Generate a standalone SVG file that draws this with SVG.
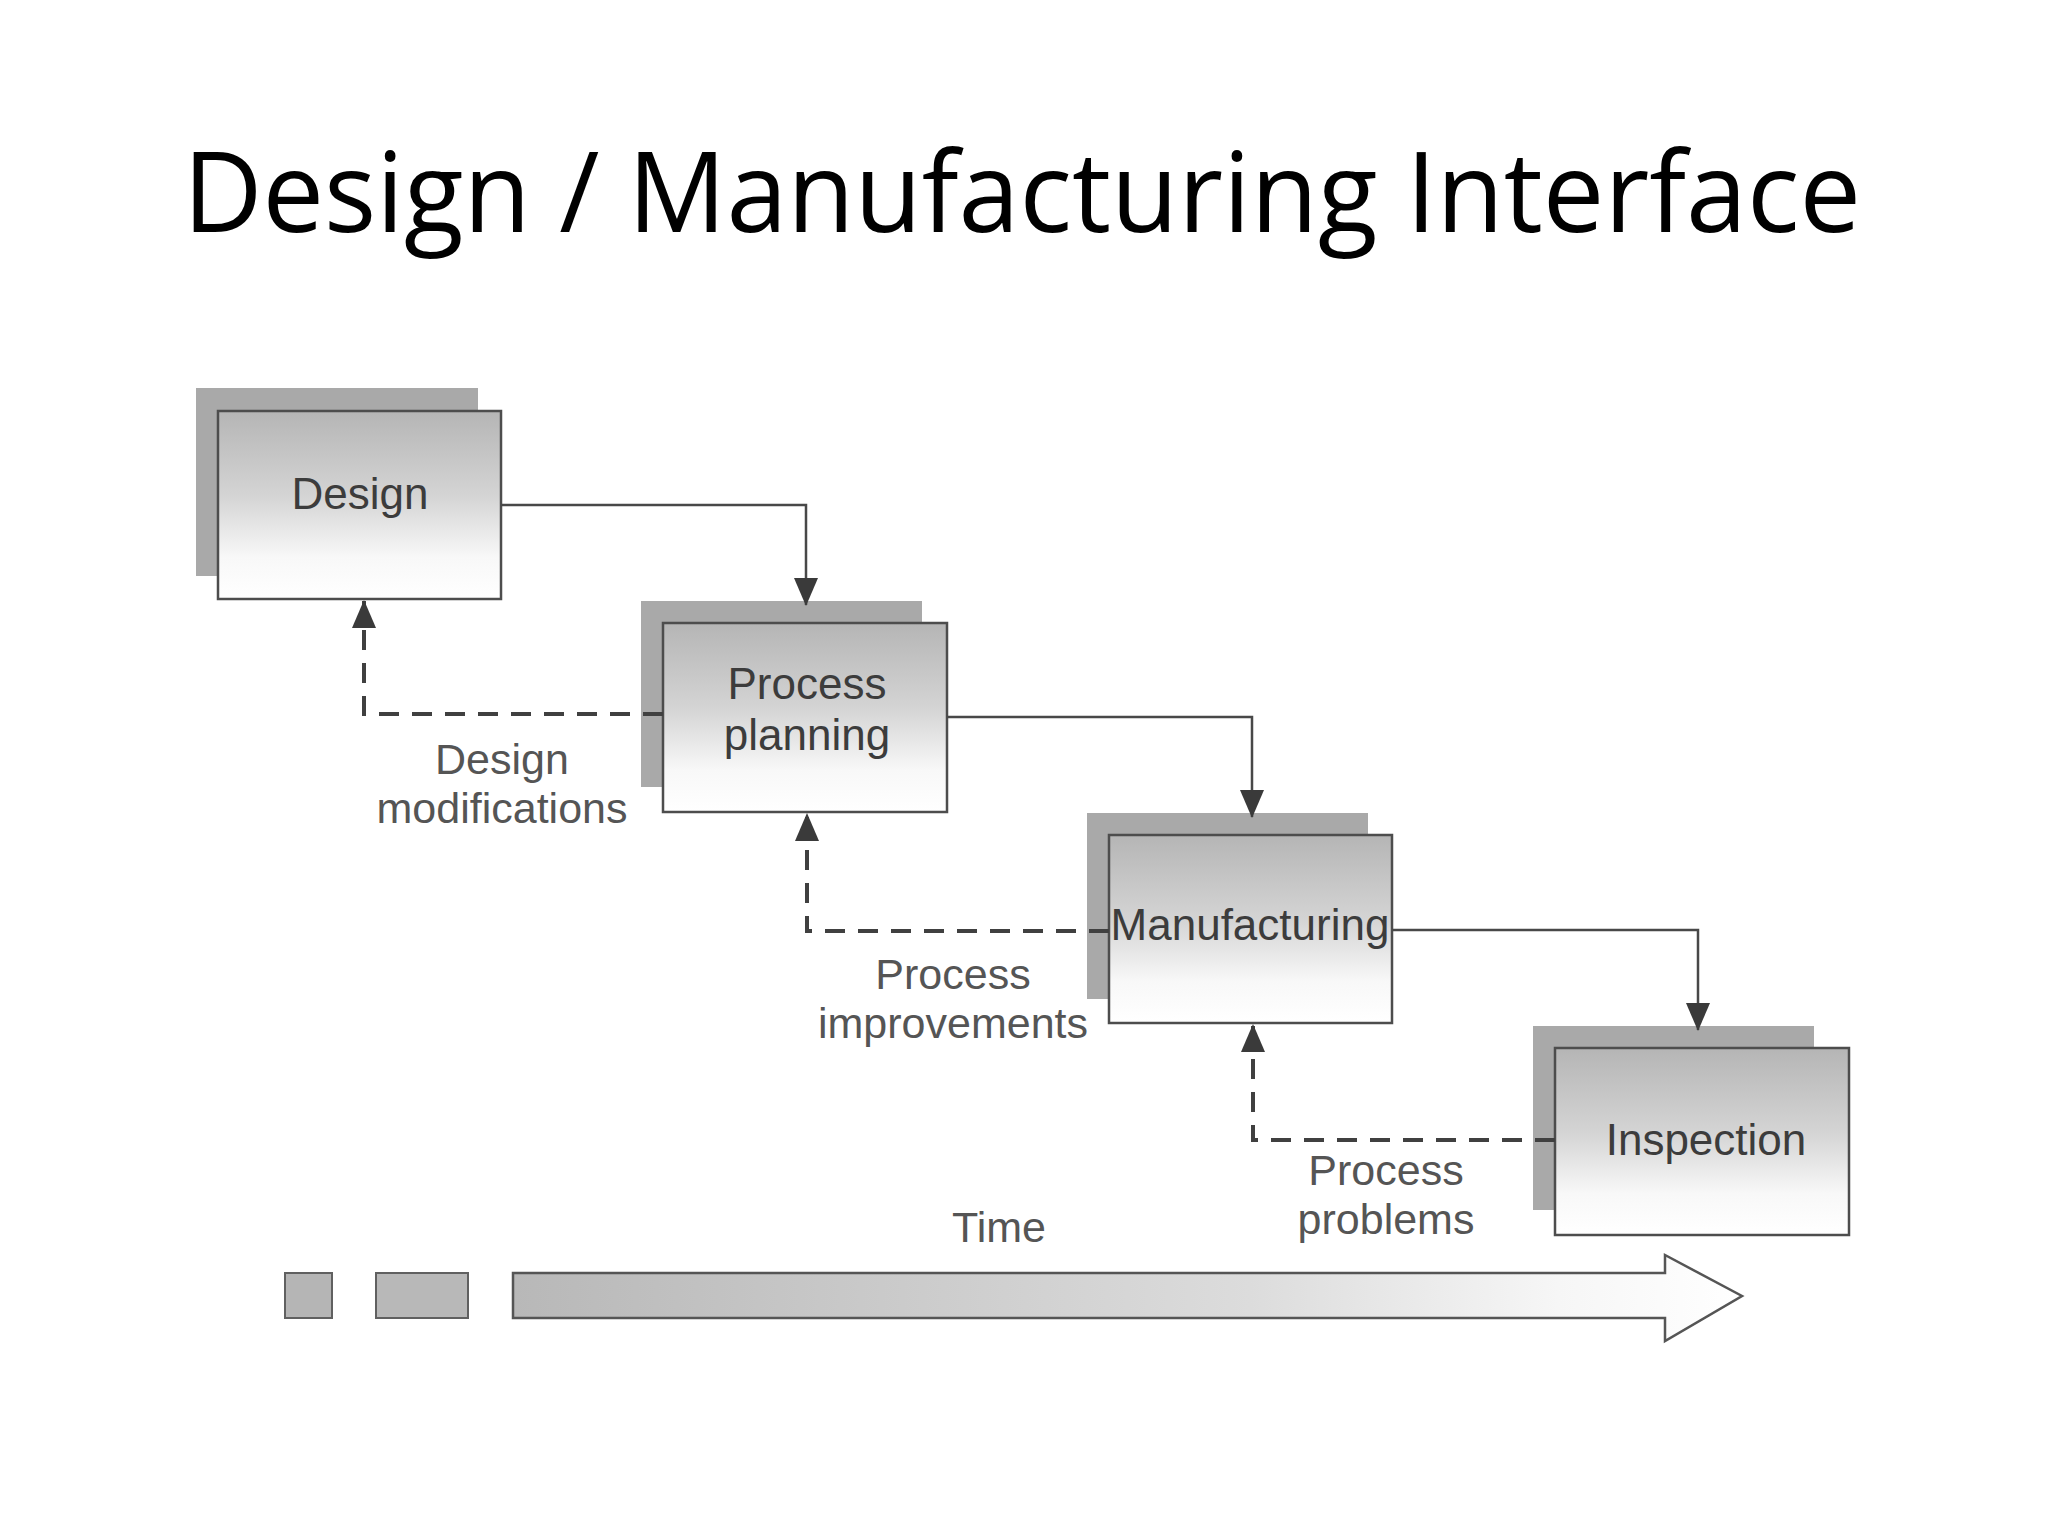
<svg xmlns="http://www.w3.org/2000/svg" width="2048" height="1536" viewBox="0 0 2048 1536">
<style>
.shadow{fill:#a9a9a9}
.box{fill:url(#boxGrad);stroke:#4d4d4d;stroke-width:2.5}
.lbl{font-family:"Liberation Sans",Arial,sans-serif;font-size:44px;fill:#3c3c3c;text-anchor:middle}
.fb{font-family:"Liberation Sans",Arial,sans-serif;font-size:43px;fill:#555555;text-anchor:middle}
.solid{fill:none;stroke:#484848;stroke-width:2.5}
.dash{fill:none;stroke:#404040;stroke-width:4;stroke-dasharray:20 13}
</style>
<defs>
<linearGradient id="boxGrad" x1="0" y1="0" x2="0" y2="1">
<stop offset="0" stop-color="#b5b5b5"/>
<stop offset="0.45" stop-color="#d4d4d4"/>
<stop offset="0.78" stop-color="#f8f8f8"/>
<stop offset="1" stop-color="#ffffff"/>
</linearGradient>
<linearGradient id="timeGrad" x1="0" y1="0" x2="1" y2="0">
<stop offset="0" stop-color="#b8b8b8"/>
<stop offset="0.6" stop-color="#dcdcdc"/>
<stop offset="0.85" stop-color="#f6f6f6"/>
<stop offset="1" stop-color="#ffffff"/>
</linearGradient>
<marker id="ah" markerUnits="userSpaceOnUse" markerWidth="28" markerHeight="24" refX="27" refY="12" orient="auto">
<path d="M0,0 L28,12 L0,24 z" fill="#3a3a3a"/>
</marker>
</defs>
<rect width="2048" height="1536" fill="#ffffff"/>
<text id="title" x="183" y="232" font-family="'Open Sans','Noto Sans',sans-serif" font-size="112" fill="#000000" textLength="1678" lengthAdjust="spacingAndGlyphs">Design / Manufacturing Interface</text>
<g id="node-design">
<rect class="shadow" x="196" y="388" width="282" height="188"/>
<rect class="box" x="218" y="411" width="283" height="188"/>
<text class="lbl" x="360" y="509">Design</text>
</g>
<g id="node-process-planning">
<rect class="shadow" x="641" y="601" width="281" height="186"/>
<rect class="box" x="663" y="623" width="284" height="189"/>
<text class="lbl" x="807" y="699">Process</text>
<text class="lbl" x="807" y="750">planning</text>
</g>
<g id="node-manufacturing">
<rect class="shadow" x="1087" y="813" width="281" height="186"/>
<rect class="box" x="1109" y="835" width="283" height="188"/>
<text class="lbl" x="1250" y="940">Manufacturing</text>
</g>
<g id="node-inspection">
<rect class="shadow" x="1533" y="1026" width="281" height="184"/>
<rect class="box" x="1555" y="1048" width="294" height="187"/>
<text class="lbl" x="1706" y="1155">Inspection</text>
</g>
<g id="connectors">
<path class="solid" d="M501,505 H806 V605" marker-end="url(#ah)"/>
<path class="solid" d="M947,717 H1252 V817" marker-end="url(#ah)"/>
<path class="solid" d="M1392,930 H1698 V1030" marker-end="url(#ah)"/>
<path class="dash" d="M663,714 H364 V601" marker-end="url(#ah)"/>
<path class="dash" d="M1109,931 H807 V814" marker-end="url(#ah)"/>
<path class="dash" d="M1555,1140 H1253 V1025" marker-end="url(#ah)"/>
<text class="fb" x="502" y="774">Design</text>
<text class="fb" x="502" y="823">modifications</text>
<text class="fb" x="953" y="989">Process</text>
<text class="fb" x="953" y="1038">improvements</text>
<text class="fb" x="1386" y="1185">Process</text>
<text class="fb" x="1386" y="1234">problems</text>
</g>
<g id="timeline">
<text class="fb" x="999" y="1242">Time</text>
<rect x="285" y="1273" width="47" height="45" fill="#b5b5b5" stroke="#606060" stroke-width="2"/>
<rect x="376" y="1273" width="92" height="45" fill="#b8b8b8" stroke="#606060" stroke-width="2"/>
<path d="M513,1273 H1665 V1255 L1742,1296 L1665,1341 V1318 H513 Z" fill="url(#timeGrad)" stroke="#555555" stroke-width="2.5"/>
</g>
</svg>
